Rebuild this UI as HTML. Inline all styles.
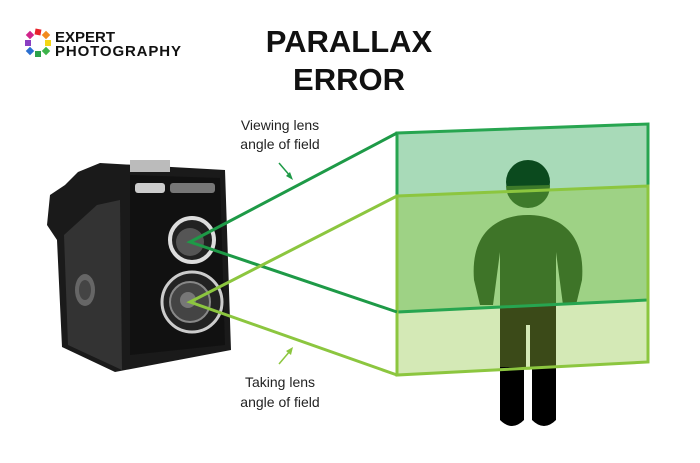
<!DOCTYPE html>
<html><head><meta charset="utf-8"><style>
body{margin:0;background:#fff;}
svg{display:block}
text{font-family:"Liberation Sans",sans-serif;}
</style></head><body>
<svg width="700" height="463" viewBox="0 0 700 463">
<!-- logo -->
<g>
<rect x="35" y="29" width="6" height="6" fill="#e8232b" transform="rotate(10 38 32)"/>
<rect x="43" y="32" width="6" height="6" fill="#f28a1e" transform="rotate(45 46 35)"/>
<rect x="45" y="40" width="6" height="6" fill="#f4d614"/>
<rect x="43" y="48" width="6" height="6" fill="#3cb34a" transform="rotate(45 46 51)"/>
<rect x="35" y="51" width="6" height="6" fill="#2aa24a"/>
<rect x="27" y="48" width="6" height="6" fill="#2a6fd0" transform="rotate(45 30 51)"/>
<rect x="25" y="40" width="6" height="6" fill="#8a3fc2"/>
<rect x="27" y="32" width="6" height="6" fill="#d0248a" transform="rotate(45 30 35)"/>
<text x="55" y="42" font-size="15" font-weight="bold" fill="#111">EXPERT</text>
<text x="55" y="56" font-size="15" font-weight="bold" fill="#111" textLength="126">PHOTOGRAPHY</text>
</g>
<text x="349" y="52" font-size="31" font-weight="bold" text-anchor="middle" fill="#111">PARALLAX</text>
<text x="349" y="90" font-size="31" font-weight="bold" text-anchor="middle" fill="#111">ERROR</text>
<!-- camera -->
<polygon points="78,172 100,163 225,170 231,350 115,372 62,347 57,240 47,225 50,195 65,185" fill="#1a1a1a"/>
<polygon points="97,205 120,200 122,370 68,345 64,235" fill="#333"/>
<polygon points="130,175 220,178 225,345 130,355" fill="#111"/>
<rect x="130" y="160" width="40" height="12" fill="#bbb"/>
<rect x="135" y="183" width="30" height="10" rx="3" fill="#ccc"/>
<rect x="170" y="183" width="45" height="10" rx="3" fill="#777"/>
<ellipse cx="85" cy="290" rx="10" ry="16" fill="#666"/>
<ellipse cx="85" cy="290" rx="6" ry="10" fill="#444"/>
<circle cx="192" cy="240" r="22" fill="#222" stroke="#ddd" stroke-width="4"/>
<circle cx="190" cy="242" r="14" fill="#555"/>
<circle cx="192" cy="302" r="30" fill="#222" stroke="#ccc" stroke-width="3"/>
<circle cx="190" cy="302" r="20" fill="#444" stroke="#888" stroke-width="2"/>
<circle cx="188" cy="300" r="8" fill="#777"/>
<!-- boxes -->
<polygon points="397,133 648,124 648,300 397,312" fill="#a8dab8"/>
<polygon points="397,196 648,186 648,362 397,375" fill="#9ed285"/>
<polygon points="397,312 648,300 648,362 397,375" fill="#d4e9b6"/>
<!-- person -->
<circle cx="528" cy="182" r="22" fill="#0b4a1e"/>
<path d="M506,186 A22,22 0 0 0 550,186 L550,185 L506,186 Z" fill="#3d7a2a"/>
<path d="M480,305 L474,280 C470,230 500,215 528,215 C556,215 586,230 582,280 L576,305 L563,305 L556,252 L556,307 L500,307 L500,252 L493,305 Z" fill="#3e7428"/>
<rect x="500" y="306" width="56" height="62" fill="#3b4a18"/>
<rect x="526" y="325" width="4" height="45" fill="#d4e9b6"/>
<path d="M500,367 H524 V420 Q512,432 500,420 Z M532,367 H556 V420 Q544,432 532,420 Z" fill="#000"/>
<!-- frame outlines -->
<polygon points="397,133 648,124 648,300 397,312" fill="none" stroke="#27a550" stroke-width="3"/>
<polygon points="397,196 648,186 648,362 397,375" fill="none" stroke="#8cc63f" stroke-width="3"/>
<!-- rays -->
<polyline points="397,133 190,242 397,312" fill="none" stroke="#1e9a47" stroke-width="3"/>
<polyline points="397,196 190,302 397,375" fill="none" stroke="#8cc63f" stroke-width="3"/>
<!-- labels -->
<text x="280" y="130" font-size="14" text-anchor="middle" fill="#222">Viewing lens</text>
<text x="280" y="149" font-size="14" text-anchor="middle" fill="#222">angle of field</text>
<line x1="279" y1="163" x2="291" y2="177" stroke="#1e9a47" stroke-width="1.5"/>
<polygon points="293,180 286,176 290,172" fill="#1e9a47"/>
<line x1="279" y1="364" x2="290" y2="351" stroke="#8cc63f" stroke-width="1.5"/>
<polygon points="293,347 291,355 286,351" fill="#8cc63f"/>
<text x="280" y="387" font-size="14" text-anchor="middle" fill="#222">Taking lens</text>
<text x="280" y="407" font-size="14" text-anchor="middle" fill="#222">angle of field</text>
</svg>
</body></html>
